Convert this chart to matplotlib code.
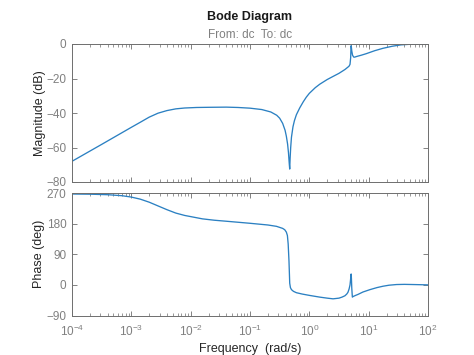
import numpy as np
import matplotlib
matplotlib.use("Agg")
import matplotlib.pyplot as plt
from matplotlib.ticker import LogLocator, NullFormatter, LogFormatterSciNotation

plt.rcParams['font.family'] = ['Liberation Sans', 'DejaVu Sans']
plt.rcParams['mathtext.default'] = 'regular'

# magnitude curve (rad/s, dB)
mag_freq = [1e-4, 3.16e-4, 1e-3, 1.41e-3, 2e-3, 2.82e-3, 3.98e-3, 5.62e-3,
            7.94e-3, 1.26e-2, 2e-2, 4e-2, 0.063, 0.1, 0.158, 0.224, 0.282,
            0.316, 0.355, 0.39, 0.41, 0.43, 0.445, 0.458, 0.467, 0.475,
            0.485, 0.50, 0.53, 0.56, 0.605, 0.69, 0.79, 0.89, 1.0, 1.26,
            1.5, 2.0, 2.51, 3.16, 3.98, 4.47, 4.68, 4.85, 4.97, 5.05, 5.1,
            5.19, 5.35, 5.6, 5.82, 6.31, 7.5, 9.12, 12.6, 17.4, 25, 35, 50,
            100]
mag_db = [-68.0, -58.2, -48.3, -45.4, -42.4, -40.1, -38.6, -37.6,
          -37.1, -36.8, -36.7, -36.6, -36.8, -37.2, -38.0, -39.4, -41.3,
          -43.0, -46.0, -50.0, -53.5, -58.0, -63.0, -69.0, -72.5, -66.0,
          -60.0, -54.0, -48.0, -44.5, -41.0, -37.0, -33.5, -30.8, -28.6, -25.3,
          -23.3, -20.6, -18.8, -17.0, -14.8, -13.4, -12.8, -11.8, -8.0, -1.0, -1.5,
          -4.0, -6.5, -7.6, -7.6, -7.2, -6.5, -5.6, -3.9, -2.5, -1.3, -0.5, -0.15,
          0.0]

# phase curve (rad/s, deg)
ph_freq = [1e-4, 2e-4, 4e-4, 7e-4, 1e-3, 1.41e-3, 2e-3, 2.82e-3, 3.98e-3,
           5.62e-3, 7.94e-3, 1.12e-2, 1.58e-2, 2.5e-2, 4e-2, 0.1, 0.2, 0.28,
           0.355, 0.385, 0.41, 0.427, 0.44, 0.454, 0.462, 0.467, 0.48, 0.50,
           0.54, 0.605, 0.76, 1.01, 1.5, 2.0, 2.51, 3.16, 3.55, 3.98, 4.27,
           4.47, 4.68, 4.85, 4.95, 5.03, 5.07, 5.12, 5.19, 5.31, 5.5, 6.0,
           6.61, 8.0, 10.5, 13.8, 17.4, 22, 29.5, 40, 56.2, 100]
ph_deg = [267, 266.5, 265, 262, 258, 252, 243, 232, 221,
          211, 204, 199, 194, 190, 187, 181, 176, 172,
          166, 162, 155, 145, 120, 70, 30, 5, -8, -14,
          -19, -23, -27, -31, -36, -39, -41, -39, -36, -32, -27,
          -22, -12, 0, 15, 30, 32, 20, -9, -36, -34, -31,
          -28, -21, -14, -8, -4, -1, 1, 1.5, 1, 0]

line_color = '#2b80c2'
tick_gray = '#808080'
edge_gray = '#6e6e6e'

fig = plt.figure(figsize=(4.74, 3.55), dpi=100)
ax1 = fig.add_axes([72 / 474, 1 - 182 / 355, 356 / 474, 138 / 355])
ax2 = fig.add_axes([72 / 474, 1 - 315.5 / 355, 356 / 474, 122.5 / 355])

ax1.plot(mag_freq, mag_db, color=line_color, linewidth=0.95)
ax2.plot(ph_freq, ph_deg, color=line_color, linewidth=0.95)

for ax in (ax1, ax2):
    ax.set_xscale('log')
    ax.set_xlim(1e-4, 1e2)
    ax.xaxis.set_major_locator(LogLocator(base=10, numticks=10))
    ax.xaxis.set_minor_locator(LogLocator(base=10, subs=np.arange(2, 10), numticks=100))
    ax.xaxis.set_minor_formatter(NullFormatter())
    ax.tick_params(which='both', direction='in', top=True, right=True,
                   colors=edge_gray, labelcolor=tick_gray, labelsize=8.5, pad=4)
    ax.tick_params(which='major', length=3.5, width=0.6)
    ax.tick_params(which='minor', length=2, width=0.5)
    for sp in ax.spines.values():
        sp.set_color(edge_gray)
        sp.set_linewidth(0.7)

ax1.set_ylim(-80, 0)
ax1.set_yticks([-80, -60, -40, -20, 0])
ax1.xaxis.set_major_formatter(NullFormatter())
ax1.set_ylabel('Magnitude (dB)', fontsize=9, color='#262626', labelpad=0)

ax2.set_ylim(-90, 270)
ax2.set_yticks([-90, 0, 90, 180, 270])
ax2.xaxis.set_major_formatter(LogFormatterSciNotation())
ax2.tick_params(axis='x', which='major', pad=6)
ax2.set_ylabel('Phase (deg)', fontsize=9, color='#262626', labelpad=1)
ax2.set_xlabel('Frequency  (rad/s)', fontsize=9, color='#262626', labelpad=3)

fig.text(0.527, 0.952, 'Bode Diagram', ha='center', va='center',
         fontsize=9, fontweight='bold', color='#1a1a1a')
fig.text(0.527, 0.901, 'From: dc  To: dc', ha='center', va='center',
         fontsize=8.5, color=tick_gray)

fig.savefig('out.png', dpi=100)
